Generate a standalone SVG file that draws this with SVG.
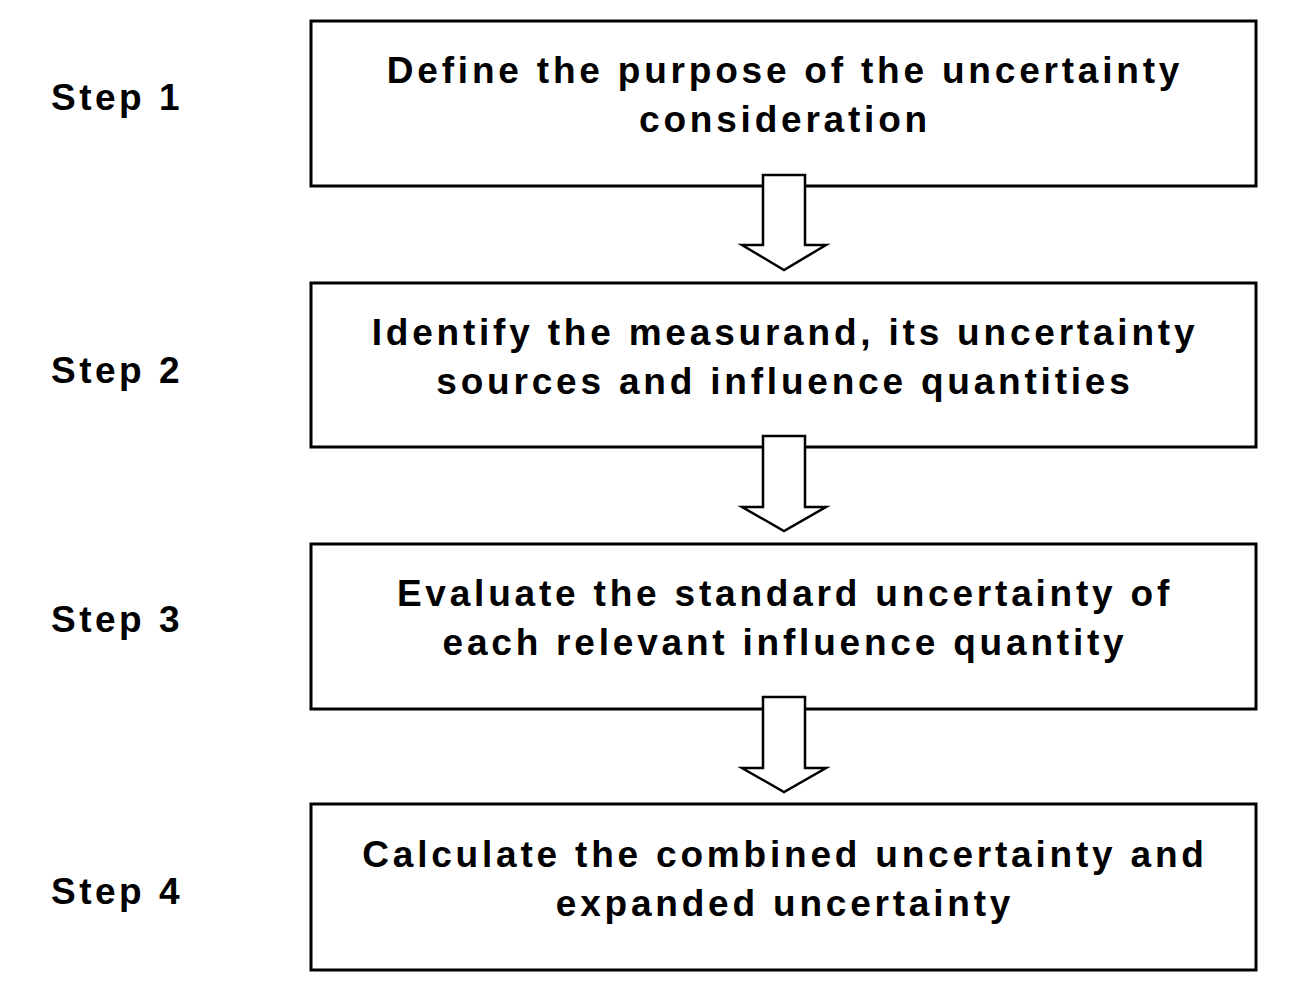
<svg xmlns="http://www.w3.org/2000/svg" width="1296" height="1007" viewBox="0 0 1296 1007">
<style>
.box{fill:#fff;stroke:#000;stroke-width:3}
.arr{fill:#fff;stroke:#000;stroke-width:2.5}
text{font-family:"Liberation Sans",Arial,sans-serif;font-weight:bold;fill:#000}
.t{font-size:37px;letter-spacing:3.8px;text-anchor:middle}
.s{font-size:37px;letter-spacing:3.5px}
</style>
<rect width="1296" height="1007" fill="#fff"/>
<g id="step1"><rect class="box" x="311" y="21" width="945" height="165"/>
<text class="t" x="785" y="83">Define the purpose of the uncertainty</text>
<text class="t" x="785" y="132">consideration</text></g>
<g id="step2"><rect class="box" x="311" y="283" width="945" height="164"/>
<text class="t" x="785" y="345">Identify the measurand, its uncertainty</text>
<text class="t" x="785" y="394">sources and influence quantities</text></g>
<g id="step3"><rect class="box" x="311" y="544" width="945" height="165"/>
<text class="t" x="785" y="606">Evaluate the standard uncertainty of</text>
<text class="t" x="785" y="655">each relevant influence quantity</text></g>
<g id="step4"><rect class="box" x="311" y="804" width="945" height="166"/>
<text class="t" x="785" y="867">Calculate the combined uncertainty and</text>
<text class="t" x="785" y="916">expanded uncertainty</text></g>
<g id="connectors">
<polygon class="arr" points="763,175 805,175 805,245 826,245 784,270 742,245 763,245"/>
<polygon class="arr" points="763,436 805,436 805,507 826,507 784,531 742,507 763,507"/>
<polygon class="arr" points="763,697 805,697 805,768 826,768 784,792 742,768 763,768"/>
</g>
<g id="labels">
<text class="s" x="51" y="110">Step 1</text>
<text class="s" x="51" y="383">Step 2</text>
<text class="s" x="51" y="632">Step 3</text>
<text class="s" x="51" y="904">Step 4</text>
</g>
</svg>
